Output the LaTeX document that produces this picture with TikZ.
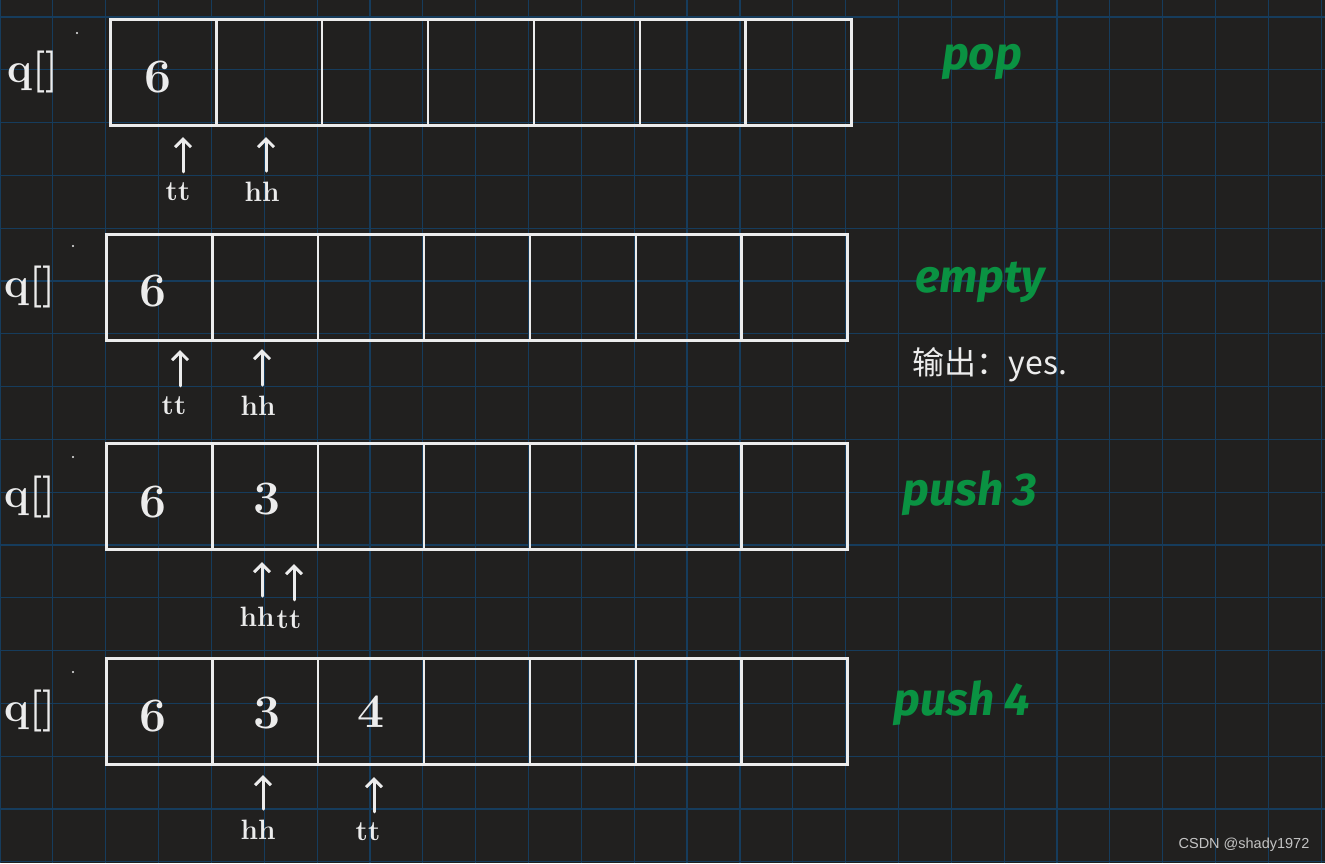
\documentclass[tikz,border=0pt]{standalone}
\usepackage{fontspec}
\newfontfamily\cjk{Noto Sans CJK SC}
\newfontfamily\wmfont{Liberation Sans}
\newfontfamily\brush{Fira Sans}
\usetikzlibrary{positioning,arrows.meta}
\definecolor{board}{RGB}{33,32,31}
\definecolor{gridblue}{RGB}{22,60,92}
\definecolor{chalk}{RGB}{236,236,236}
\definecolor{ink}{RGB}{10,146,66}

\begin{document}
\begin{tikzpicture}[x=1pt,y=-1pt,
    gridline/.style={gridblue,line width=1.2pt},
    cell/.style={draw=chalk,line width=2.6pt,minimum width=105.9pt,minimum height=106pt,inner sep=0pt,anchor=north west},
    digit/.style={text=chalk,font=\fontsize{48}{48}\selectfont\bfseries},
    arr/.style={text=chalk,font=\fontsize{42}{42}\selectfont\bfseries},
    ptr/.style={text=chalk,inner sep=1pt,font=\fontsize{28}{28}\selectfont\bfseries},
    ptrarrow/.style={draw=chalk,line width=3pt,line cap=round,shorten <=10pt,-{Straight Barb[length=8pt,width=16pt]}},
    op/.style={text=ink,font=\brush\fontsize{46}{46}\selectfont\bfseries\itshape}]
    \useasboundingbox (0,0) rectangle (1325,863);
    \fill[board] (0,0) rectangle (1325,863);
    \foreach \k in {0,...,25} \draw[gridline] ({52.85*\k},0) -- ({52.85*\k},863);
    \foreach \k in {0,...,16} \draw[gridline] (0,{17+52.8*\k}) -- (1325,{17+52.8*\k});

    % the four arrays
    \foreach \r/\x/\y in {1/109/18, 2/105/233, 3/105/442, 4/105/657}
        \foreach \c in {1,...,7}
            \node[cell] (c_\r_\c) at ({\x+(\c-1)*105.9},\y) {};

    \node[arr] (q_1) at (33,72) {q[]};
    \node[arr] (q_2) at (30,287) {q[]};
    \node[arr] (q_3) at (30,497) {q[]};
    \node[arr] (q_4) at (30,711) {q[]};
    \foreach \p in {(77,33),(73,246),(73,457),(73,672)} \fill[chalk] \p circle (1.2);

    \node[digit] (v_1_1) at (158,77) {6};
    \node[digit] (v_2_1) at (153,291) {6};
    \node[digit] (v_3_1) at (153,502) {6};
    \node[digit] (v_3_2) at (267,499) {3};
    \node[digit] (v_4_1) at (153,716) {6};
    \node[digit] (v_4_2) at (267,713) {3};
    \node[digit] (v_4_3) at (371,712) {4};

    % pointers
    \node[ptr] (tt_1) at (178,192) {tt};
    \node[ptr] (hh_1) at (262,192) {hh};
    \node[ptr] (tt_2) at (174,406) {tt};
    \node[ptr] (hh_2) at (258,406) {hh};
    \node[ptr] (hh_3) at (257,617) {hh};
    \node[ptr] (tt_3) at (289,620) {tt};
    \node[ptr] (hh_4) at (258,830) {hh};
    \node[ptr] (tt_4) at (368,832) {tt};
    \coordinate (at_tt_1) at (183,137);
    \coordinate (at_hh_1) at (266,137);
    \coordinate (at_tt_2) at (180,350);
    \coordinate (at_hh_2) at (262,349);
    \coordinate (at_hh_3) at (262,562);
    \coordinate (at_tt_3) at (294,564);
    \coordinate (at_hh_4) at (263,775);
    \coordinate (at_tt_4) at (374,777);
    \foreach \n in {tt_1,hh_1,tt_2,hh_2,hh_3,tt_3,hh_4,tt_4}
        \draw[ptrarrow] (\n.north -| at_\n) -- (at_\n);

    \node[op] (op_1) at (982,62) {pop};
    \node[op] (op_2) at (980,282) {empty};
    \node[op] (op_3) at (970,493) {push 3};
    \node[op] (op_4) at (962,703) {push 4};
    \node[text=chalk,font=\cjk\fontsize{32}{32}\selectfont] (out_2) at (990,365) {输出：yes.};

    \node[text={rgb,255:red,196;green,196;blue,196},font=\wmfont\fontsize{14.5}{14.5}\selectfont] (mark) at (1244,845) {CSDN @shady1972};
\end{tikzpicture}
\end{document}
